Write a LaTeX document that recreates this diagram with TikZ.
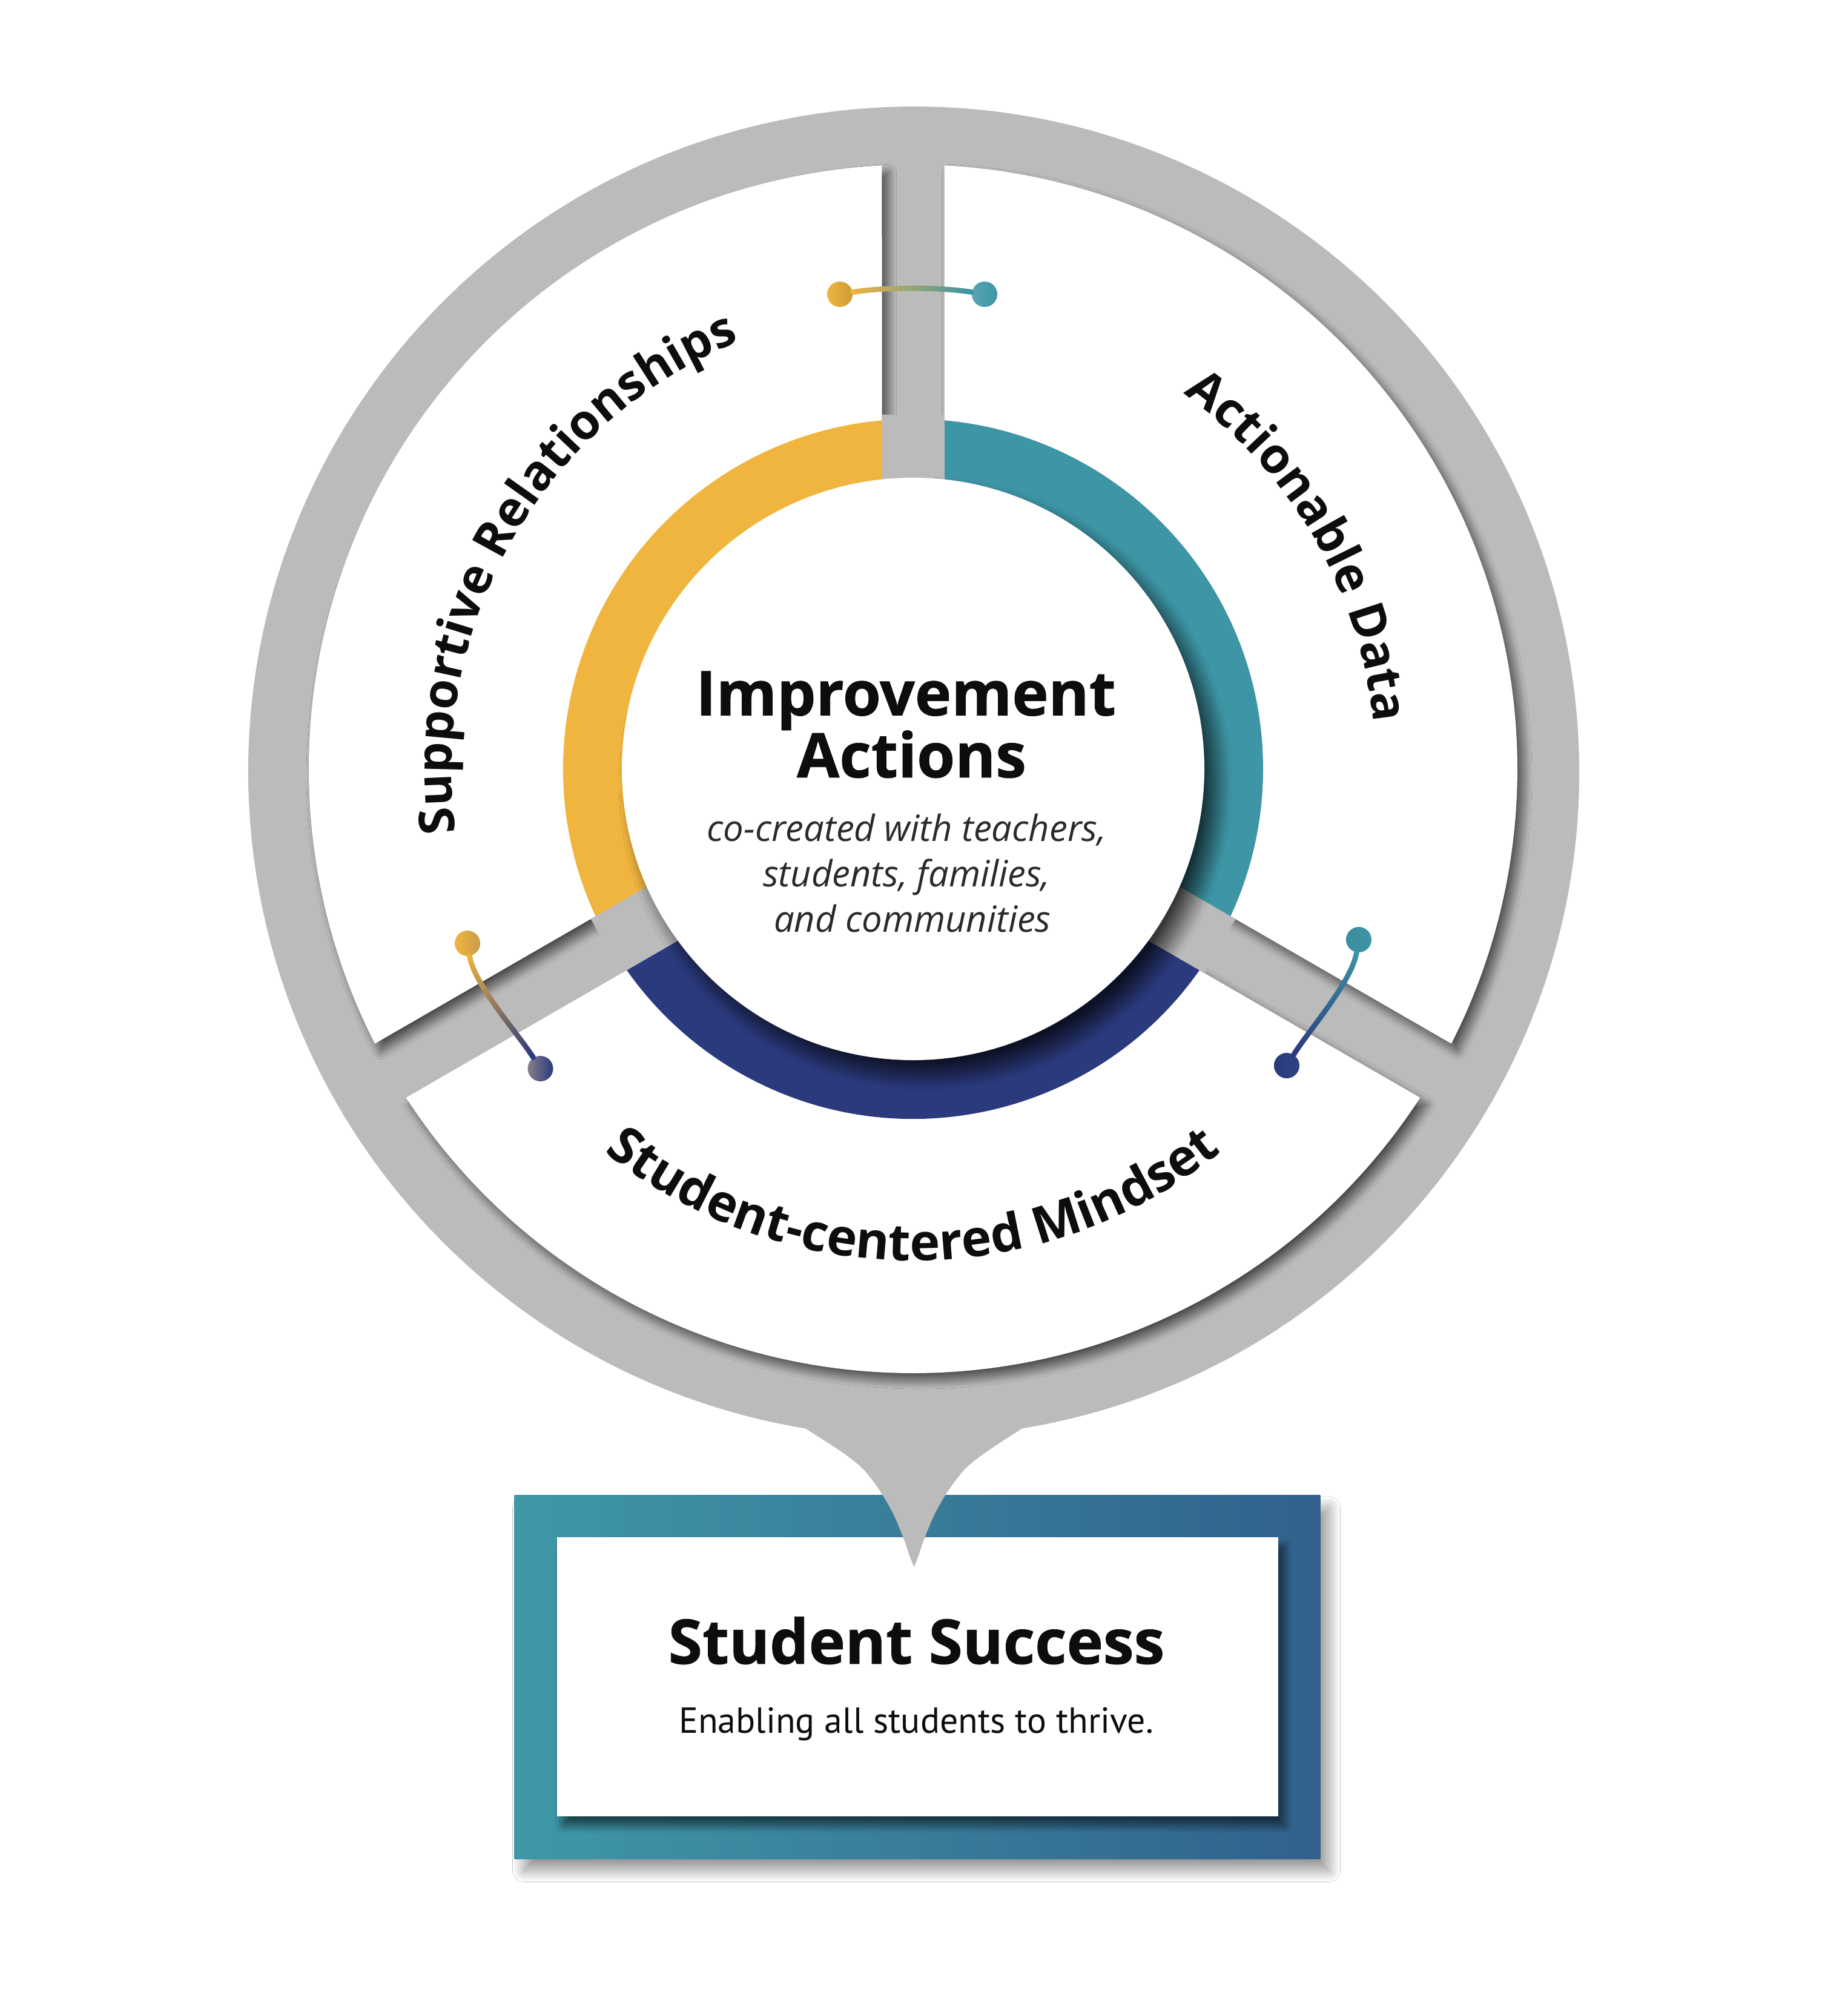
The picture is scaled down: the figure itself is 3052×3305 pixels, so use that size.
\documentclass[tikz,border=0pt]{standalone}
\usepackage{fontspec}
\newfontfamily\osans{Open Sans}
\newfontfamily\osheavy[BoldFeatures={FakeBold=0.8}]{Open Sans}
\newfontfamily\ptsans{PT Sans}
\usetikzlibrary{decorations.text,decorations.markings,shadows.blur}
\definecolor{ringgrey}{HTML}{BBBBBB}
\definecolor{cgold}{HTML}{F0B53F}
\definecolor{cteal}{HTML}{3D95A5}
\definecolor{cnavy}{HTML}{2B3A7D}
\definecolor{boxL}{HTML}{3F98A7}
\definecolor{boxR}{HTML}{31618C}
\definecolor{ink}{HTML}{0D0D0D}
\definecolor{italink}{HTML}{2A2A2A}
\newcommand\curvefont{\osans\bfseries\fontsize{23}{25}\selectfont\color{ink}}
\newcommand\curvefontb{\osans\bfseries\fontsize{24}{26}\selectfont\color{ink}}
\tikzset{
 sectorshadow/.style={blur shadow={shadow xshift=0.1cm, shadow yshift=-0.12cm, shadow blur radius=0.14cm, shadow opacity=60, shadow blur steps=30}},
 diskshadow/.style={blur shadow={shadow xshift=0.2cm, shadow yshift=-0.25cm, shadow blur radius=0.25cm, shadow opacity=70, shadow blur steps=30}},
 boxframe/.style={minimum width=13.3cm, minimum height=6cm, inner sep=0pt, left color=boxL, right color=boxR, blur shadow={shadow xshift=0.15cm, shadow yshift=-0.2cm, shadow blur radius=0.18cm, shadow opacity=40, shadow blur steps=30}},
 boxpaper/.style={minimum width=11.91cm, minimum height=4.61cm, inner sep=0pt, fill=white, blur shadow={shadow xshift=0.1cm, shadow yshift=-0.15cm, shadow blur radius=0.12cm, shadow opacity=55, shadow blur steps=25}},
 titlefont/.style={font=\osheavy\bfseries\fontsize{29}{31}\selectfont, text=ink, inner sep=0pt},
 subfont/.style={font=\ptsans\fontsize{17}{20}\selectfont, text=ink, inner sep=0pt},
 italfont/.style={font=\osans\itshape\fontsize{17}{21}\selectfont, text=italink, inner sep=0pt},
 dotnode/.style={circle, inner sep=0pt, minimum size=0.42cm},
 curvelabel/.style={decorate, decoration={text along path, text align=center, text={#1}}},
 gradline/.style 2 args={postaction={decorate, decoration={markings, mark=between positions 0 and 1 step 0.01 with {\pgfmathtruncatemacro{\mixp}{max(0,min(100,101-\pgfkeysvalueof{/pgf/decoration/mark info/sequence number}))}\fill[#1!\mixp!#2] (0,0) circle[radius=0.045cm];}}}},
}
\begin{document}
\begin{tikzpicture}[x=0.01cm,y=-0.01cm]
\useasboundingbox (0,0) rectangle (3052,3305);
\fill[white] (0,0) rectangle (3052,3305);

% result box
\node[boxframe] (boxout) at (1515,2770) {};
\node[boxpaper] (boxin) at (1515.5,2769.5) {};
\node[titlefont, anchor=base] (succ) at (1513.5,2748) {Student Success};
\node[subfont, anchor=base] (enab) at (1513,2862) {Enabling all students to thrive.};

% grey teardrop
\fill[ringgrey] plot[smooth] coordinates {(1330.07,2359.34) (1390,2398) (1425,2426) (1453,2462) (1475,2500) (1492,2540) (1503,2572) (1509.5,2588)}
 -- plot[smooth] coordinates {(1509.5,2588) (1516,2572) (1527,2540) (1544,2500) (1566,2462) (1594,2426) (1629,2398) (1687.93,2359.34)}
 arc[start angle=80.63, end angle=-260.63, radius=1099] -- cycle;

\begin{scope}[shift={(1508,1270)}]
% white sectors
\fill[white, sectorshadow] (210:59.47) -- (152.96:998) arc[start angle=152.96, end angle=267.04, radius=998] -- cycle;
\fill[white, sectorshadow] (330:59.47) -- (272.96:998) arc[start angle=272.96, end angle=387.04, radius=998] -- cycle;
\fill[white, sectorshadow] (90:59.47) -- (32.96:998) arc[start angle=32.96, end angle=147.04, radius=998] -- cycle;
% coloured ring
\fill[cgold] (150:578) arc[start angle=150, end angle=270, radius=578] -- (270:480) arc[start angle=270, end angle=150, radius=480] -- cycle;
\fill[cteal] (270:578) arc[start angle=270, end angle=390, radius=578] -- (390:480) arc[start angle=390, end angle=270, radius=480] -- cycle;
\fill[cnavy] (30:578) arc[start angle=30, end angle=150, radius=578] -- (150:480) arc[start angle=150, end angle=30, radius=480] -- cycle;
% spokes through the ring
\foreach \a in {270,150,30}
  \fill[ringgrey] (\a+90:51.5) -- ++(\a:585) -- ++(\a-90:103) -- ++(\a+180:585) -- cycle;
% centre disk
\fill[white, diskshadow] (0,0) circle[radius=481];
% curved labels
\path[curvelabel={|\curvefont|Supportive Relationships}] (150:762) arc[start angle=150, end angle=270, radius=762];
\path[curvelabel={|\curvefont|Actionable Data}] (270:764) arc[start angle=270, end angle=390, radius=764];
\path[curvelabel={|\curvefontb|Student-centered Mindset}] (150:812) arc[start angle=150, end angle=30, radius=812];
\end{scope}

% centre text
\node[titlefont, anchor=base] (imp) at (1496,1181.5) {Improvement};
\node[titlefont, anchor=base] (act) at (1505.5,1284) {Actions};
\node[italfont, anchor=base] (it1) at (1497.5,1389.5) {co-created with teachers,};
\node[italfont, anchor=base] (it2) at (1497.5,1464) {students, families,};
\node[italfont, anchor=base] (it3) at (1507,1539) {and communities};

% connectors
\node[dotnode, left color=cgold, right color=cgold!85!black] (d1) at (1387,486) {};
\node[dotnode, left color=cteal!85!white, right color=cteal] (d2) at (1626,486) {};
\node[dotnode, left color=cgold, right color=cgold!80!cnavy] (d3) at (772,1558) {};
\node[dotnode, left color=cnavy!70!cgold!80!white, right color=cnavy] (d4) at (892.5,1765) {};
\node[dotnode, left color=cteal!90!cnavy, right color=cteal] (d5) at (2244,1552) {};
\node[dotnode, left color=cnavy, right color=cnavy!90!cteal] (d6) at (2125,1760) {};
\path[gradline={cgold}{cteal}] (d1) .. controls (1460,474) and (1553,474) .. (d2);
\path[gradline={cgold}{cnavy}] (d3) .. controls (784,1628) and (854,1705) .. (d4);
\path[gradline={cteal}{cnavy}] (d5) .. controls (2232,1622) and (2163,1700) .. (d6);
\end{tikzpicture}
\end{document}
